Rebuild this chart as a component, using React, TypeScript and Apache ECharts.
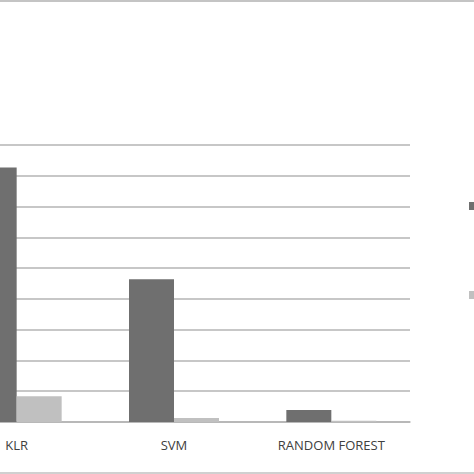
import { useEffect, useRef } from "react";
import * as echarts from "echarts";

const categories = ["KLR", "SVM", "RANDOM FOREST"];
const seriesNames = ["Series 1", "Series 2"];
const darkValues = [82.7, 46.4, 3.9];
const lightValues = [8.4, 1.3, 0.4];

// the chart is wider than the window on both sides; the reference is a crop of it
const SHIFT = 62;
const EXTRA = 80;

const App: React.FC = () => {
	const chartRef = useRef<HTMLDivElement>(null);

	useEffect(() => {
		if (!chartRef.current) return;
		const chart = echarts.init(chartRef.current, undefined, { renderer: "svg" });

		// legend keys sit at the right edge; their labels are outside the crop
		const legendItem = (name: string, top: number) => ({
			data: [name],
			left: 469 + SHIFT,
			top,
			padding: 0,
			orient: "vertical",
			icon: "rect",
			itemWidth: 8,
			itemHeight: 8,
			formatter: () => "",
			selectedMode: false,
		});

		const option = {
			animation: false,
			backgroundColor: "#ffffff",
			grid: { left: 0, right: 64 + EXTRA, top: 145, bottom: 52, containLabel: false },
			legend: [legendItem(seriesNames[0], 202), legendItem(seriesNames[1], 291)],
			xAxis: {
				type: "category",
				data: categories,
				axisTick: { show: false },
				axisLine: { lineStyle: { color: "#b4b4b4", width: 1.5 } },
				axisLabel: {
					color: "#404040",
					fontSize: 13,
					fontFamily: "Open Sans",
					margin: 16,
				},
			},
			yAxis: {
				type: "value",
				min: 0,
				max: 90,
				interval: 10,
				axisLabel: { show: false },
				axisLine: { show: false },
				axisTick: { show: false },
				splitLine: { lineStyle: { color: "#b4b4b4", width: 1.5 } },
			},
			series: [
				{
					name: seriesNames[0],
					type: "bar",
					data: darkValues,
					barWidth: 45,
					barGap: "0%",
					itemStyle: { color: "#6f6f6f" },
				},
				{
					name: seriesNames[1],
					type: "bar",
					data: lightValues,
					barWidth: 45,
					barGap: "0%",
					itemStyle: { color: "#c0c0c0" },
				},
			],
			graphic: [
				{
					type: "line",
					shape: { x1: SHIFT, y1: 1, x2: 474 + SHIFT, y2: 1 },
					style: { stroke: "#c4c4c4", lineWidth: 2 },
				},
				{
					type: "line",
					shape: { x1: SHIFT, y1: 473, x2: 474 + SHIFT, y2: 473 },
					style: { stroke: "#d0d0d0", lineWidth: 2 },
				},
			],
		};

		chart.setOption(option);

		return () => {
			chart.dispose();
		};
	}, []);

	return (
		<div style={{ position: "fixed", left: 0, top: 0, width: 474, height: 474, overflow: "hidden" }}>
			<div
				ref={chartRef}
				style={{ position: "absolute", left: -SHIFT, top: 0, width: 474 + SHIFT + EXTRA, height: 474 }}
			/>
		</div>
	);
};

export default App;
